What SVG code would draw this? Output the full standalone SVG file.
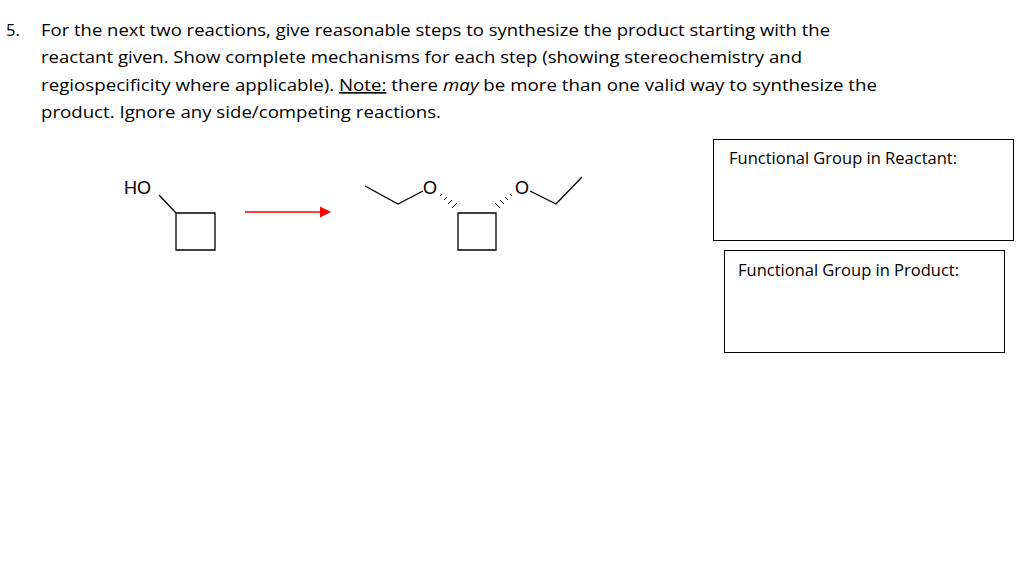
<svg xmlns="http://www.w3.org/2000/svg" width="1024" height="576" viewBox="0 0 1024 576">
<style>
text{font-family:"Open Sans","Liberation Sans",sans-serif;font-size:16.5px;fill:#000}
.b{stroke:#000;stroke-width:1.3;fill:none}
.h{stroke:#000;stroke-width:1}
</style>
<rect width="1024" height="576" fill="#fff"/>
<g id="question">
<text x="6" y="36">5.</text>
<text x="41" y="36" textLength="789" lengthAdjust="spacingAndGlyphs">For the next two reactions, give reasonable steps to synthesize the product starting with the</text>
<text x="41" y="63" textLength="761" lengthAdjust="spacingAndGlyphs">reactant given.  Show complete mechanisms for each step (showing stereochemistry and</text>
<text x="41" y="91" textLength="836" lengthAdjust="spacingAndGlyphs">regiospecificity where applicable).  <tspan text-decoration="underline">Note:</tspan> there <tspan font-style="italic">may</tspan> be more than one valid way to synthesize the</text>
<text x="41" y="118" textLength="400" lengthAdjust="spacingAndGlyphs">product.  Ignore any side/competing reactions.</text>
</g>
<g id="reactant">
<text x="124" y="194" style="font-family:'Liberation Sans',Arial,sans-serif;font-size:18px">HO</text>
<path class="b" d="M159 195 L176 213 M176 213 H215 V250 H176 Z"/>
</g>
<g id="connectors">
<line x1="245" y1="212" x2="322" y2="212" stroke="#f00" stroke-width="1.3"/>
<polygon points="331,212 320,206.5 320,217.5" fill="#f00"/>
</g>
<g id="product">
<path class="b" d="M458 213 H496 V250 H458 Z"/>
<path class="b" d="M365 186 L398 204 L423 191"/>
<path class="b" d="M530 191 L556 204 L582 177"/>
<text x="430" y="194" text-anchor="middle" style="font-family:'Liberation Sans',Arial,sans-serif;font-size:18px">O</text>
<text x="522" y="194" text-anchor="middle" style="font-family:'Liberation Sans',Arial,sans-serif;font-size:18px">O</text>
<g class="h">
<line x1="440" y1="196" x2="442" y2="194"/><line x1="444" y1="200" x2="447" y2="197"/><line x1="448" y1="204" x2="452" y2="200"/><line x1="452" y1="208" x2="457" y2="203"/>
<line x1="512" y1="196" x2="510" y2="194"/><line x1="508" y1="200" x2="505" y2="197"/><line x1="504" y1="204" x2="500" y2="200"/><line x1="500" y1="208" x2="495" y2="203"/>
</g>
</g>
<g id="box-reactant">
<rect x="713.5" y="139.5" width="300" height="101" fill="none" stroke="#000"/>
<text x="729" y="164">Functional Group in Reactant:</text>
</g>
<g id="box-product">
<rect x="724.5" y="250.5" width="280" height="102" fill="none" stroke="#000"/>
<text x="738" y="276">Functional Group in Product:</text>
</g>
</svg>
